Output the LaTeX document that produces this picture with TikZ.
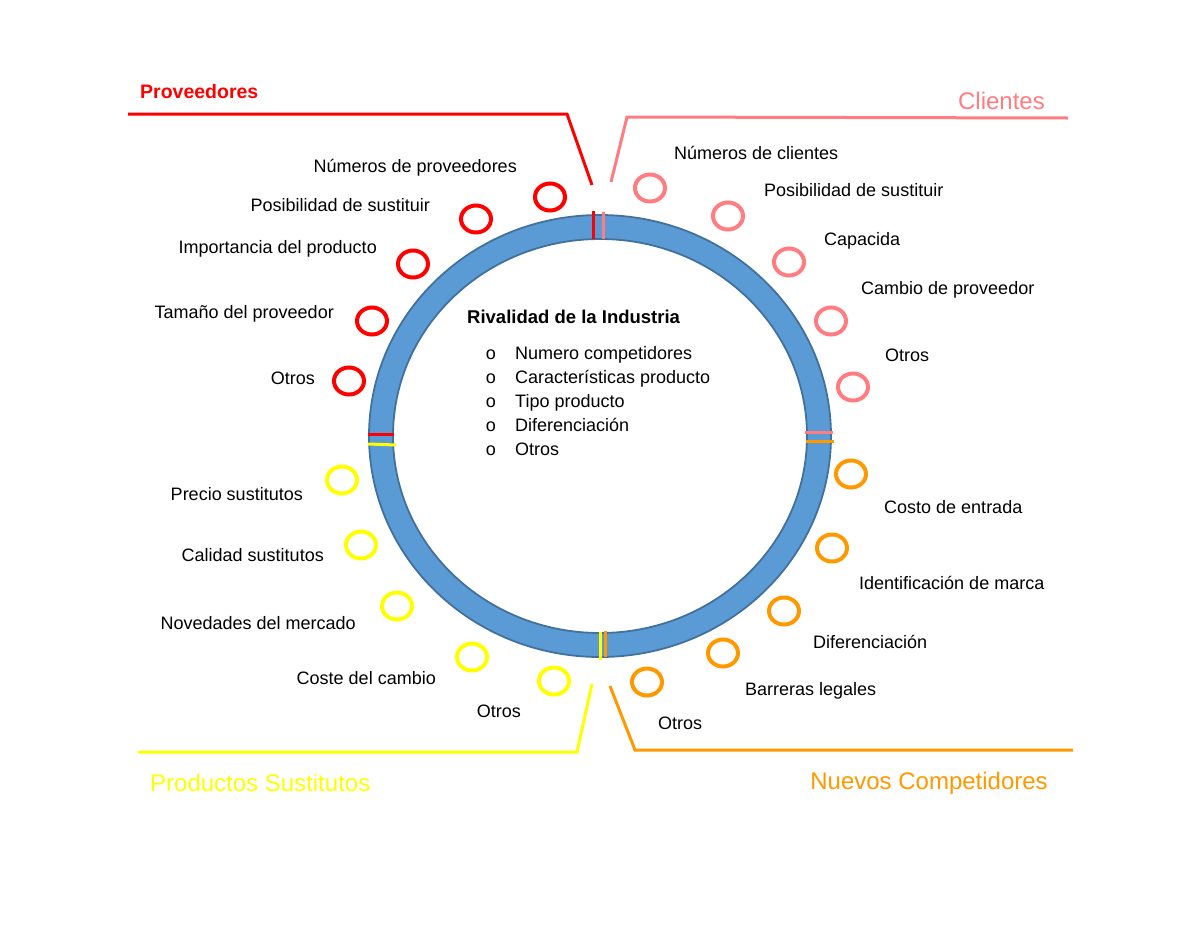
\documentclass[tikz,border=0pt]{standalone}
\usepackage{fontspec}
\setmainfont{Liberation Sans}
\usetikzlibrary{shapes.geometric}
\definecolor{cred}{HTML}{FF0000}
\definecolor{cpink}{HTML}{FF7C80}
\definecolor{corange}{HTML}{FF9900}
\definecolor{cyellow}{HTML}{FFFF00}
\definecolor{ringfill}{HTML}{5B9BD5}
\definecolor{ringedge}{HTML}{41719C}
\begin{document}
\begin{tikzpicture}[x=1pt,y=-1pt,
  dot/.style={ellipse,draw=#1,line width=4pt,minimum width=30pt,minimum height=27pt,inner sep=0pt},
  lab/.style={inner sep=0pt,font=\fontsize{18}{20}\selectfont,text=black},
  big/.style={inner sep=0pt,font=\fontsize{24}{26}\selectfont,text=#1},
  frame/.style={draw=#1,line width=3pt,line join=miter},
  tick/.style={draw=#1,line width=3pt}]
\useasboundingbox (0,0) rectangle (1200,927);
% ring
\path[fill=ringfill,draw=ringedge,line width=1.8pt,even odd rule]
  (600,436) ellipse [x radius=231,y radius=221]
  (600,436) ellipse [x radius=207,y radius=197];
\coordinate (center) at (600,436);
% ticks
\draw[tick=cred] (593,211) -- (593,239);
\draw[tick=cpink] (603,212) -- (603,239);
\draw[tick=cred] (368,434) -- (394,434);
\draw[tick=cyellow] (368,444) -- (396,445);
\draw[tick=cpink] (805,432) -- (833,432);
\draw[tick=corange] (806,441) -- (834,441);
\draw[tick=cyellow] (600,632) -- (600,660);
\draw[tick=corange] (605,631) -- (605,657);
% frames
\coordinate (p1) at (128,114); \coordinate (p2) at (567,114); \coordinate (p3) at (592,185);
\draw[frame=cred] (p1) -- (p2) -- (p3);
\coordinate (c1) at (1068,118); \coordinate (c2) at (627,117); \coordinate (c3) at (611,182);
\draw[frame=cpink] (c1) -- (c2) -- (c3);
\coordinate (s1) at (138,752); \coordinate (s2) at (577,752); \coordinate (s3) at (592,684);
\draw[frame=cyellow] (s1) -- (s2) -- (s3);
\coordinate (n1) at (1073,750); \coordinate (n2) at (635,750); \coordinate (n3) at (610,686);
\draw[frame=corange] (n1) -- (n2) -- (n3);
% titles
\node[big=cred,font=\bfseries\fontsize{19.5}{22}\selectfont,anchor=west] (tprov) at (140,92) {Proveedores};
\node[big=cpink,anchor=east] (tcli) at (1045,101) {Clientes};
\node[big=cyellow,anchor=west] (tsus) at (150,783) {Productos Sustitutos};
\node[big=corange,anchor=east] (tnue) at (1048,783) {Nuevos Competidores};
% red circles and labels
\node[dot=cred] (r1) at (550,197) {};
\node[dot=cred] (r2) at (476,219) {};
\node[dot=cred] (r3) at (413,264) {};
\node[dot=cred] (r4) at (372,321) {};
\node[dot=cred] (r5) at (349,381) {};
\node[lab,anchor=east] (lr1) at (517,168) {Números de proveedores};
\node[lab,anchor=east] (lr2) at (430,205) {Posibilidad de sustituir};
\node[lab,anchor=east] (lr3) at (377,249) {Importancia del producto};
\node[lab,anchor=east] (lr4) at (334,314) {Tamaño del proveedor};
\node[lab,anchor=east] (lr5) at (315,378) {Otros};
% pink circles and labels
\node[dot=cpink] (k1) at (650,188) {};
\node[dot=cpink] (k2) at (728,216) {};
\node[dot=cpink] (k3) at (789,262) {};
\node[dot=cpink] (k4) at (831,321) {};
\node[dot=cpink] (k5) at (853,387) {};
\node[lab,anchor=west] (lk1) at (674,153) {Números de clientes};
\node[lab,anchor=west] (lk2) at (764,190) {Posibilidad de sustituir};
\node[lab,anchor=west] (lk3) at (824,241) {Capacida};
\node[lab,anchor=west] (lk4) at (861,290) {Cambio de proveedor};
\node[lab,anchor=west] (lk5) at (885,355) {Otros};
% orange circles and labels
\node[dot=corange] (o1) at (851,474) {};
\node[dot=corange] (o2) at (832,548) {};
\node[dot=corange] (o3) at (784,611) {};
\node[dot=corange] (o4) at (723,653) {};
\node[dot=corange] (o5) at (647,682) {};
\node[lab,anchor=west] (lo1) at (884,507) {Costo de entrada};
\node[lab,anchor=west] (lo2) at (859,583) {Identificación de marca};
\node[lab,anchor=west] (lo3) at (813,642) {Diferenciación};
\node[lab,anchor=west] (lo4) at (745,691) {Barreras legales};
\node[lab,anchor=west] (lo5) at (658,723) {Otros};
% yellow circles and labels
\node[dot=cyellow] (y1) at (342,480) {};
\node[dot=cyellow] (y2) at (361,545) {};
\node[dot=cyellow] (y3) at (397,606) {};
\node[dot=cyellow] (y4) at (472,657) {};
\node[dot=cyellow] (y5) at (554,681) {};
\node[lab,anchor=east] (ly1) at (303,494) {Precio sustitutos};
\node[lab,anchor=east] (ly2) at (324,555) {Calidad sustitutos};
\node[lab,anchor=east] (ly3) at (356,623) {Novedades del mercado};
\node[lab,anchor=east] (ly4) at (436,678) {Coste del cambio};
\node[lab,anchor=east] (ly5) at (521,711) {Otros};
% center text
\node[lab,font=\bfseries\fontsize{18.5}{21}\selectfont,anchor=west] (riv) at (467,317) {Rivalidad de la Industria};
\foreach \t [count=\i] in {Numero competidores,Características producto,Tipo producto,Diferenciación,Otros}{
  \node[lab,anchor=base] (b\i) at (491,335+24*\i) {o};
  \node[lab,anchor=base west] (it\i) at (515,335+24*\i) {\t};
}
\end{tikzpicture}
\end{document}
